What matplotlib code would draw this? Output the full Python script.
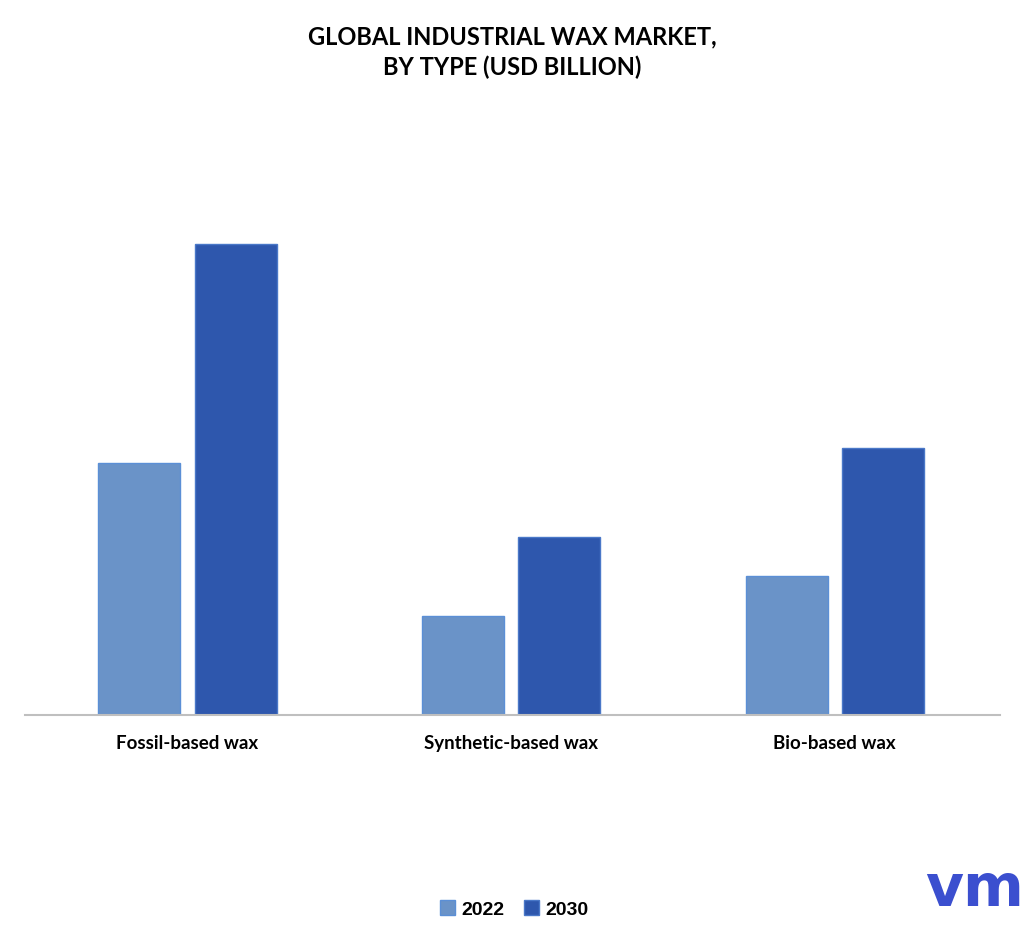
import numpy as np
import matplotlib.pyplot as plt

categories = ['Fossil-based wax', 'Synthetic-based wax', 'Bio-based wax']
years = ['2022', '2030']
values_2022 = [2.52, 0.99, 1.39]
values_2030 = [4.71, 1.78, 2.67]

fig = plt.figure(figsize=(10.24, 9.37), dpi=100)
# axes: bottom at y=716px, top at y=150px (from top)
ax = fig.add_axes([25 / 1024, 1 - 716 / 937, 975 / 1024, (716 - 150) / 937])

x = np.arange(len(categories))
w = 0.253
ax.bar(x - 0.148, values_2022, w, color='#6A93C8', edgecolor='#5B8FD6', linewidth=1, label=years[0])
ax.bar(x + 0.150, values_2030, w, color='#2E57AD', edgecolor='#4A78C8', linewidth=1, label=years[1])

ax.set_xlim(-0.5, 2.51)
ax.set_ylim(0, 5.66)
ax.set_yticks([])
ax.set_xticks(x)
ax.set_xticklabels(categories, fontsize=13.5, fontweight='bold', family='Lato')
ax.tick_params(axis='x', length=0, pad=14)
for s in ['top', 'right', 'left']:
    ax.spines[s].set_visible(False)
ax.spines['bottom'].set_color('#BFBFBF')
ax.spines['bottom'].set_linewidth(1.5)

fig.text(0.5, 1 - 52 / 937, 'GLOBAL INDUSTRIAL WAX MARKET,\nBY TYPE (USD BILLION)',
         ha='center', va='center', fontsize=17, fontweight='bold', family='Lato', linespacing=1.35)

fig.legend(loc='center', bbox_to_anchor=(0.502, 1 - 910 / 937), ncol=2, frameon=False,
           prop={'family': 'Liberation Sans', 'weight': 'bold', 'size': 14},
           handlelength=0.8, handleheight=0.8, handletextpad=0.3, columnspacing=1.0)

# logo
fig.text(975 / 1024, 1 - 890 / 937, 'vm', ha='center', va='center', fontsize=42,
         fontweight='bold', color='#3B4FCF', family='DejaVu Sans')

fig.savefig('out.png', dpi=100)
